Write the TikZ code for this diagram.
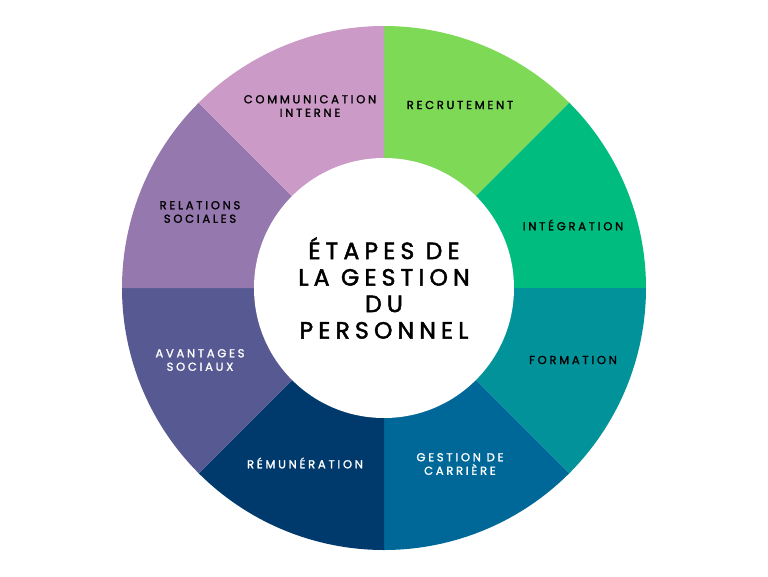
\documentclass[tikz,border=0pt]{standalone}
\usepackage{fontspec}
\setmainfont{Poppins}
\newfontfamily\lblfont[LetterSpace=24,FakeBold=1.6]{Poppins}
\newfontfamily\ctrfont[LetterSpace=22,FakeBold=2]{Poppins}
\definecolor{cComm}{HTML}{CB9AC6}
\definecolor{cRecr}{HTML}{7ED957}
\definecolor{cInte}{HTML}{00BC7E}
\definecolor{cForm}{HTML}{02939A}
\definecolor{cGest}{HTML}{006898}
\definecolor{cRemu}{HTML}{003A6C}
\definecolor{cAvan}{HTML}{575A92}
\definecolor{cRela}{HTML}{9478AE}
\tikzset{
  lbl/.style={align=center, inner sep=0pt, font=\lblfont\fontsize{11.5}{13.5}\selectfont},
  dark/.style={lbl, text=black},
  light/.style={lbl, text=white},
  ctr/.style={circle, fill=white, minimum size=260pt, inner sep=0pt, align=center,
    font=\ctrfont\fontsize{23.5}{26.5}\selectfont}
}
\begin{document}
\begin{tikzpicture}[x=1pt,y=1pt]
\useasboundingbox[fill=white] (-384,-288) rectangle (384,288);
\def\R{262}
\foreach \c [count=\i from 0] in {cRecr,cInte,cForm,cGest,cRemu,cAvan,cRela,cComm}{
  \pgfmathsetmacro\sa{90-45*\i}
  \pgfmathsetmacro\ea{45-45*\i}
  \fill[\c] (0,0) -- (\sa:\R) arc[start angle=\sa, end angle=\ea, radius=\R] -- cycle;
}
\node[ctr] (centre) at (0,0) {ÉTAPES DE\\LA GESTION\\DU\\PERSONNEL};
\node[dark] (comm) at (-74,182) {COMMUNICATION\\INTERNE};
\node[dark] (recr) at (76,183) {RECRUTEMENT};
\node[dark] (inte) at (189,63) {INTÉGRATION};
\node[dark] (form) at (189,-72) {FORMATION};
\node[light] (gest) at (76,-176) {GESTION DE\\CARRIÈRE};
\node[light] (remu) at (-79,-175) {RÉMUNÉRATION};
\node[light] (avan) at (-184,-72) {AVANTAGES\\SOCIAUX};
\node[dark] (rela) at (-184,76) {RELATIONS\\SOCIALES};
\end{tikzpicture}
\end{document}
